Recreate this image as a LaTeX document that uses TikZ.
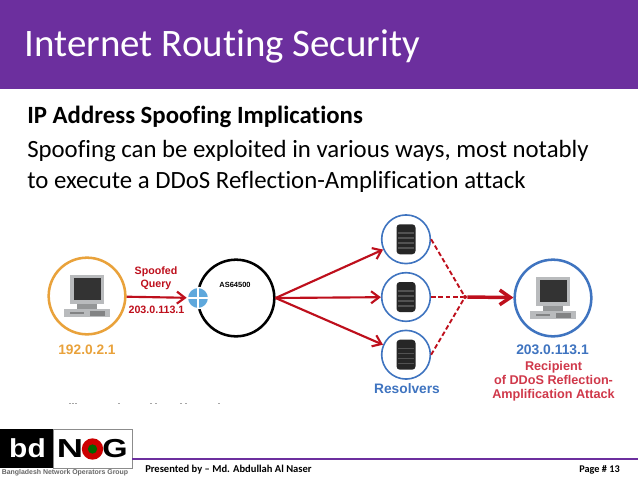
\documentclass[tikz,border=0pt]{standalone}
\usepackage{fontspec}
\setmainfont{Carlito}[Ligatures=NoCommon]
\newfontfamily\arialfont{Liberation Sans}
\usepackage{xcolor}
\usetikzlibrary{arrows.meta,positioning}
\definecolor{slidepurple}{HTML}{6C2F9E}
\definecolor{hostorange}{HTML}{E9A23B}
\definecolor{hostblue}{HTML}{3F74C0}
\definecolor{attackred}{HTML}{BE0F1C}
\definecolor{noteRed}{HTML}{D0384A}
\definecolor{routerblue}{HTML}{5FA8DC}
\definecolor{pcgrey}{HTML}{B9BBBD}
\tikzset{
  pics/desktop/.style = {code = {
    \fill[pcgrey] (-17,-21) rectangle (17,8);
    \fill[black!80] (-13.5,-18) rectangle (13.5,4);
    \fill[pcgrey!80!black] (-10,8) rectangle (10,13);
    \fill[pcgrey] (-23,13) rectangle (23,21);
    \fill[pcgrey!70!black] (3,15) rectangle (18,20);
    \fill[pcgrey!70!black] (-17,16) rectangle (-3,17.5);
  }},
  pics/server/.style = {code = {
    \fill[black!85, rounded corners=2.5] (-9.5,-15) rectangle (9.5,15);
    \foreach \ypos in {-7,-2,3,8}
      \fill[black!68] (-8,\ypos) rectangle (8,\ypos+1.5);
  }}
}
\begin{document}
\begin{tikzpicture}[
      x = 0.75pt, y = -0.75pt,
      node distance = 5.6pt and 14mm,
      ring/.style = {draw, circle, line width=1.9pt, minimum size=57.5pt, inner sep=0pt},
      resolver/.style = {draw=hostblue, circle, line width=1.2pt, minimum size=36.5pt, inner sep=0pt},
      label/.style = {font=\arialfont\bfseries, align=center, inner sep=0pt},
      logoletter/.style = {inner sep=0pt, transform shape, font=\arialfont\bfseries\fontsize{19.5}{20}\selectfont},
      slidetext/.style = {anchor=base west, inner sep=0pt, font=\fontsize{18.6}{22}\selectfont},
      arrow/.style = {-{Straight Barb[length=6pt,width=9pt]}, attackred, line width=1.6pt},
      bigarrow/.style = {-{Straight Barb[length=8pt,width=11pt]}, attackred, line width=2.6pt},
      dashline/.style = {attackred, line width=1.4pt, dash pattern=on 3.5pt off 2pt}
    ]
    \useasboundingbox (0,0) rectangle (638,478);
    \fill[white] (0,0) rectangle (638,478);
    \fill[slidepurple] (0,0) rectangle (638,89);

    \node (title) [anchor=base west, inner sep=0pt, text=white, font=\fontsize{29.2}{32}\selectfont] at (24.5,57) {Internet Routing Security};
    \node (head)  [slidetext, font=\fontsize{18.6}{22}\selectfont\bfseries] at (27,123) {IP Address Spoofing Implications};
    \node (line1) [slidetext] at (27,157) {Spoofing can be exploited in various ways, most notably};
    \node (line2) [slidetext] at (27,188) {to execute a DDoS Reflection-Amplification attack};

    \node (src)  [ring, draw=hostorange] at (87,296) {};
    \node (as)   [ring, draw=black] at (236,298) {};
    \node (rtr)  [circle, fill=routerblue, draw=white, line width=1pt, minimum size=16pt, inner sep=0pt] at (198,298) {};
    \node (asn)  [label, font=\arialfont\bfseries\fontsize{5.6}{7}\selectfont] at (235,284.5) {AS64500};

    \node (res2) [resolver] at (406,297) {};
    \node (res1) [resolver, above=of res2] {};
    \node (res3) [resolver, below=of res2] {};
    \node (dst)  [ring, draw=hostblue] at (553,298) {};
    \node (fork) [circle, fill=attackred, minimum size=3pt, inner sep=0pt] at (465,297) {};

    \pic at (src) {desktop};
    \pic at (dst) {desktop};
    \pic at (res1) {server};
    \pic at (res2) {server};
    \pic at (res3) {server};

    \draw[white, line width=0.8pt] (rtr.north) -- (rtr.south) (rtr.west) -- (rtr.east);

    \node (spf)  [label, text=attackred, font=\arialfont\bfseries\fontsize{8}{9.75}\selectfont] at (156,278.5) {Spoofed\\Query};
    \node (spip) [label, text=attackred, font=\arialfont\bfseries\fontsize{8}{10}\selectfont] at (156.5,310) {203.0.113.1};
    \node (srcip) [label, text=hostorange, font=\arialfont\bfseries\fontsize{10.3}{12}\selectfont] at (87,350) {192.0.2.1};
    \node (resl) [label, text=hostblue, font=\arialfont\bfseries\fontsize{10.3}{12}\selectfont] at (407,389) {Resolvers};
    \node (dstip) [label, text=hostblue, font=\arialfont\bfseries\fontsize{10.4}{12}\selectfont] at (552.5,350) {203.0.113.1};
    \node (note) [label, text=noteRed, font=\arialfont\bfseries\fontsize{9.5}{10.5}\selectfont] at (553.5,381) {Recipient\\of DDoS Reflection-\\Amplification Attack};

    \draw[arrow] (src) -- (rtr);
    \draw[arrow] (as.east) -- (res1);
    \draw[arrow] (as.east) -- (res2);
    \draw[arrow] (as.east) -- (res3);

    \draw[dashline] (res1.east) -- (fork);
    \draw[dashline] (res2.east) -- (fork);
    \draw[dashline] (res3.east) -- (fork);
    \draw[bigarrow] (fork) -- (dst);

    \foreach \xpos in {69,72,75,118,150,155,180,185,218}
      \fill[black!35] (\xpos,402.5) rectangle (\xpos+2,403.5);

    \fill[black] (0,429) rectangle (53,468);
    \draw[black!45, line width=0.6pt] (53,429.5) rectangle (132,468);
    \node (bd) [logoletter, xscale=1.15, text=white] at (27.5,448) {bd};
    \node (nn) [logoletter, xscale=1.4] at (70,449) {N};
    \node (oo) [circle, fill=red!80!black, minimum size=16pt, inner sep=0pt] at (92.5,449) {};
    \node (gr) [circle, fill=green!40!black, minimum size=7pt, inner sep=0pt] at (oo.center) {};
    \node (gg) [logoletter, xscale=1.25] at (115,449) {G};
    \node (tag) [label, text=black!60, font=\arialfont\bfseries\fontsize{5.2}{6}\selectfont] at (65,473) {Bangladesh Network Operators Group};

    \coordinate (rulestart) at (132,459);
    \coordinate (ruleend) at (638,459);
    \draw[slidepurple, line width=1.1pt] (rulestart) -- (ruleend);
    \node (pres) [anchor=base west, inner sep=0pt, font=\fontsize{7.9}{10}\selectfont\bfseries] at (145,472) {Presented by -- Md. Abdullah Al Naser};
    \node (page) [anchor=base east, inner sep=0pt, font=\fontsize{7.7}{10}\selectfont\bfseries] at (620,472) {Page \# 13};
  \end{tikzpicture}
\end{document}
